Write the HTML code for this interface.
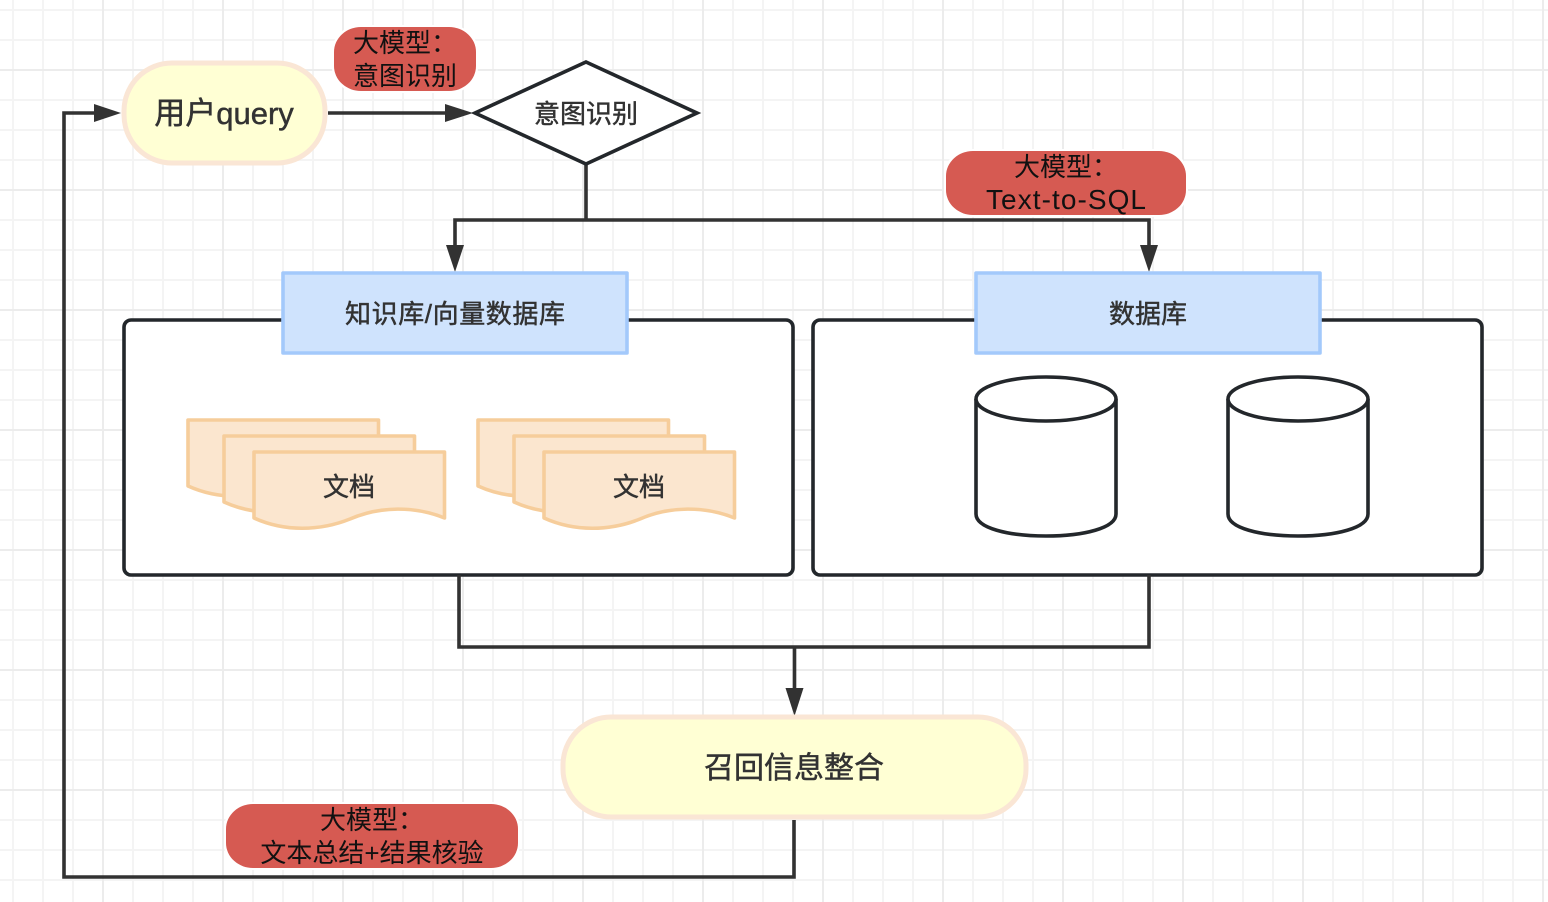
<!DOCTYPE html>
<html><head><meta charset="utf-8"><style>
html,body{margin:0;padding:0;background:#fff;width:1548px;height:902px;overflow:hidden}
svg{display:block}
text{font-family:"Liberation Sans","Noto Sans CJK SC",sans-serif;text-anchor:middle}
.d{fill:#323232;stroke:#323232;stroke-width:.45px}
.k{fill:#111;font-size:26px}
</style></head><body>
<svg width="1548" height="902" viewBox="0 0 1548 902" xmlns="http://www.w3.org/2000/svg">
<defs>
<pattern id="gm" width="30" height="30" patternUnits="userSpaceOnUse" x="12" y="9"><path d="M1 0V30M0 1H30" fill="none" stroke="#f4f4f4" stroke-width="2"/></pattern>
<pattern id="gM" width="120" height="120" patternUnits="userSpaceOnUse" x="102" y="69"><path d="M1 0V120M0 1H120" fill="none" stroke="#ececec" stroke-width="2"/></pattern>
<path id="sheet" d="M254 452H444.500V518C415 506 380 506 350 519C320 531 285 532 254 518Z" fill="#fbe6cf" stroke="#f6cd9b" stroke-width="3.600" stroke-linejoin="round"/>
<g id="doc">
<use href="#sheet" x="-66" y="-32"/>
<use href="#sheet" x="-30" y="-16"/>
<use href="#sheet"/>
<text x="349" y="496" class="d" font-size="26">文档</text>
</g>
<g id="cyl">
<path d="M976 399V514C976 528 1008 536 1046 536C1084 536 1116 528 1116 514V399" fill="#fff" stroke="#23272b" stroke-width="3.600"/>
<ellipse cx="1046" cy="399" rx="70" ry="22" fill="#fff" stroke="#23272b" stroke-width="3.600"/>
</g>
</defs>
<rect width="1548" height="902" fill="url(#gm)"/>
<rect width="1548" height="902" fill="url(#gM)"/>

<!-- containers -->
<rect x="124" y="320" width="669" height="255" rx="7" fill="#fff" stroke="#23272b" stroke-width="3.600"/>
<rect x="813" y="320" width="669" height="255" rx="7" fill="#fff" stroke="#23272b" stroke-width="3.600"/>

<!-- connectors -->
<g fill="none" stroke="#323232" stroke-width="3.600">
<path d="M328 113H448"/>
<path d="M794 820V877H64V113H98"/>
<path d="M586 164V220"/>
<path d="M455 248V220H1149V248"/>
<path d="M459 575V647H1149V575"/>
<path d="M794.500 647V692"/>
</g>
<g fill="#323232">
<path d="M121 113L94 104V122Z"/>
<path d="M473 113L445 104V122Z"/>
<path d="M455 272L446 245H464Z"/>
<path d="M1149 272L1140 245H1158Z"/>
<path d="M794.500 716L785.500 688H803.500Z"/>
</g>

<!-- user query -->
<rect x="124" y="63" width="201" height="100" rx="48" fill="#ffffd4" stroke="#fae6d5" stroke-width="5"/>
<text x="224" y="124" class="d" font-size="31">用户query</text>

<!-- diamond -->
<path d="M586 62L697 113L586 164L475 113Z" fill="#fff" stroke="#23272b" stroke-width="3.600" stroke-linejoin="miter"/>
<text x="586" y="123" class="d" font-size="26">意图识别</text>

<!-- red labels -->
<rect x="332" y="25" width="146" height="68" rx="28" ry="26" fill="#fff"/>
<rect x="334" y="27" width="142" height="64" rx="27" ry="25" fill="#d65a52"/>
<text x="405" y="52" class="k">大模型：</text>
<text x="405" y="85" class="k">意图识别</text>

<rect x="944" y="149" width="244" height="68" rx="28" ry="26" fill="#fff"/>
<rect x="946" y="151" width="240" height="64" rx="27" ry="25" fill="#d65a52"/>
<text x="1066" y="176" class="k">大模型：</text>
<text x="1066" y="209" class="k" style="font-size:28px" textLength="160" lengthAdjust="spacing">Text-to-SQL</text>

<!-- headers -->
<rect x="283" y="273" width="344" height="80" fill="#cfe3fd" stroke="#a3c9fb" stroke-width="3.600" stroke-linejoin="round"/>
<text x="455" y="323" class="d" font-size="26" textLength="220" lengthAdjust="spacing">知识库/向量数据库</text>
<rect x="976" y="273" width="344" height="80" fill="#cfe3fd" stroke="#a3c9fb" stroke-width="3.600" stroke-linejoin="round"/>
<text x="1148" y="323" class="d" font-size="26">数据库</text>

<!-- docs -->
<use href="#doc"/>
<use href="#doc" x="290"/>

<!-- cylinders -->
<use href="#cyl"/>
<use href="#cyl" x="252"/>

<!-- recall -->
<rect x="563" y="717" width="463" height="100" rx="48" fill="#ffffd4" stroke="#fae6d5" stroke-width="5"/>
<text x="794" y="778" class="d" font-size="30">召回信息整合</text>

<rect x="224" y="802" width="296" height="68" rx="28" ry="26" fill="#fff"/>
<rect x="226" y="804" width="292" height="64" rx="27" ry="25" fill="#d65a52"/>
<text x="372" y="829" class="k">大模型：</text>
<text x="372" y="862" class="k">文本总结+结果核验</text>
</svg>
</body></html>
